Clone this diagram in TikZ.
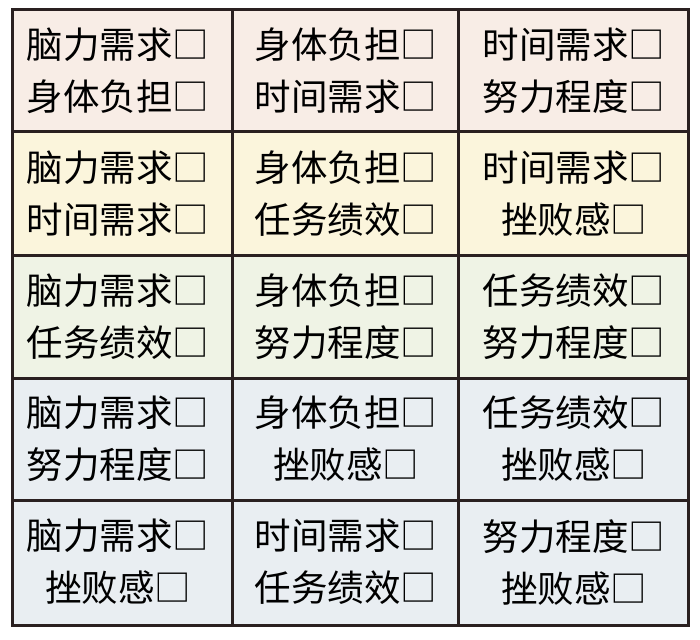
\documentclass[tikz,border=0pt]{standalone}
\usepackage{fontspec}
\newfontfamily\cjk{Noto Sans CJK SC}
\definecolor{rA}{HTML}{F8EDE6}
\definecolor{rB}{HTML}{FBF5DC}
\definecolor{rC}{HTML}{EFF3E5}
\definecolor{rD}{HTML}{E9EEF2}
\definecolor{ln}{HTML}{2A2020}
\begin{document}
\begin{tikzpicture}[x=1pt,y=-1pt,
  cell/.style={align=center,font=\cjk\fontsize{36.5}{52}\selectfont,text=black,inner sep=0pt}]
\useasboundingbox (0,0) rectangle (700,639);
\fill[white] (0,0) rectangle (700,639);
\fill[rA] (12,10) rectangle (688,132);
\fill[rB] (12,132) rectangle (688,255);
\fill[rC] (12,255) rectangle (688,378);
\fill[rD] (12,378) rectangle (688,625);
\draw[ln,line width=3pt] (12,10) rectangle (688,625);
\foreach \x in {232,458} \draw[ln,line width=3pt] (\x,10) -- (\x,625);
\foreach \y in {132,255,378,500} \draw[ln,line width=3pt] (12,\y) -- (688,\y);
\node[cell] (a1) at (118,71) {脑力需求□\\身体负担□};
\node[cell] (a2) at (346,71) {身体负担□\\时间需求□};
\node[cell] (a3) at (574,71) {时间需求□\\努力程度□};
\node[cell] (b1) at (118,194) {脑力需求□\\时间需求□};
\node[cell] (b2) at (346,194) {身体负担□\\任务绩效□};
\node[cell] (b3) at (574,194) {时间需求□\\挫败感□};
\node[cell] (c1) at (118,317) {脑力需求□\\任务绩效□};
\node[cell] (c2) at (346,317) {身体负担□\\努力程度□};
\node[cell] (c3) at (574,317) {任务绩效□\\努力程度□};
\node[cell] (d1) at (118,439) {脑力需求□\\努力程度□};
\node[cell] (d2) at (346,439) {身体负担□\\挫败感□};
\node[cell] (d3) at (574,439) {任务绩效□\\挫败感□};
\node[cell] (e1) at (118,562) {脑力需求□\\挫败感□};
\node[cell] (e2) at (346,562) {时间需求□\\任务绩效□};
\node[cell] (e3) at (574,562) {努力程度□\\挫败感□};
\end{tikzpicture}
\end{document}
